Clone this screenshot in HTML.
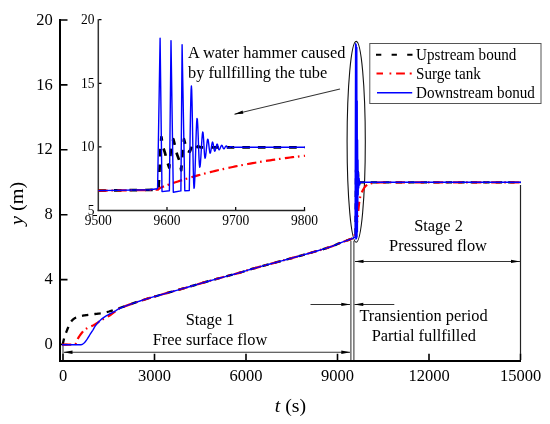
<!DOCTYPE html>
<html><head><meta charset="utf-8"><title>Water level chart</title>
<style>html,body{margin:0;padding:0;background:#fff;}svg{display:block;}</style>
</head><body>
<svg width="550" height="424" viewBox="0 0 550 424">
<rect width="550" height="424" fill="#fff"/>
<g stroke="#000" fill="none">
<path d="M60,19 V362 M59,361 H521" stroke-width="2"/>
<path d="M61,344.5 H67.5 M61,279.6 H67.5 M61,214.7 H67.5 M61,149.8 H67.5 M61,84.9 H67.5 M61,20 H67.5" stroke-width="1.6"/>
<path d="M63,360 V353.8 M154.5,360 V353.8 M246,360 V353.8 M337.5,360 V353.8 M429,360 V353.8 M520.5,360 V353.8" stroke-width="1.6"/>
</g>
<g font-family="'Liberation Serif', 'Times New Roman', serif" fill="#000">
<text transform="translate(52.8,349.1) scale(1,1.0)" font-size="16.5" text-anchor="end">0</text>
<text transform="translate(52.8,284.2) scale(1,1.0)" font-size="16.5" text-anchor="end">4</text>
<text transform="translate(52.8,219.3) scale(1,1.0)" font-size="16.5" text-anchor="end">8</text>
<text transform="translate(52.8,154.4) scale(1,1.0)" font-size="16.5" text-anchor="end">12</text>
<text transform="translate(52.8,89.5) scale(1,1.0)" font-size="16.5" text-anchor="end">16</text>
<text transform="translate(52.8,24.6) scale(1,1.0)" font-size="16.5" text-anchor="end">20</text>
<text transform="translate(63,380.6) scale(1,1.0)" font-size="16.5" text-anchor="middle">0</text>
<text transform="translate(154.5,380.6) scale(1,1.0)" font-size="16.5" text-anchor="middle">3000</text>
<text transform="translate(246,380.6) scale(1,1.0)" font-size="16.5" text-anchor="middle">6000</text>
<text transform="translate(337.5,380.6) scale(1,1.0)" font-size="16.5" text-anchor="middle">9000</text>
<text transform="translate(429,380.6) scale(1,1.0)" font-size="16.5" text-anchor="middle">12000</text>
<text transform="translate(520.5,380.6) scale(1,1.0)" font-size="16.5" text-anchor="middle">15000</text>
</g>
<text transform="translate(274.8,412.3) scale(1,0.94)" font-family="'Liberation Serif', 'Times New Roman', serif" font-size="19.8"><tspan font-style="italic">t</tspan> (s)</text>
<text transform="translate(22.6,225) rotate(-90) scale(1,0.95)" font-family="'Liberation Serif', 'Times New Roman', serif" font-size="20.2"><tspan font-style="italic">y</tspan> (m)</text>
<g stroke="#333" fill="none" stroke-width="1.05">
<path d="M350.9,240.8 V360 M353.9,240.8 V360"/>
<path d="M63,345 V360"/>
<path d="M520.5,185 V354" stroke="#222" stroke-width="1.2"/>
<path d="M64,352.3 H350"/>
<path d="M355,261.4 H520"/>
<path d="M310.5,304.4 H350 M354.5,304.4 H394.3"/>
<path d="M340,89 L234.5,114.2"/>
</g>
<path d="M63.5,352.3 L72.5,350.6 L72.5,354 Z M350.3,352.3 L341.3,354 L341.3,350.6 Z M354.5,261.4 L363.5,259.7 L363.5,263.1 Z M520,261.4 L511,263.1 L511,259.7 Z M350.3,304.4 L341.3,306.1 L341.3,302.7 Z M354.3,304.4 L363.3,302.7 L363.3,306.1 Z M234.2,114.3 L242.56,110.56 L243.35,113.86 Z" fill="#000"/>
<ellipse cx="356.2" cy="141.8" rx="9.1" ry="100.4" fill="none" stroke="#111" stroke-width="1.1"/>
<g fill="none" stroke-linejoin="round">
<path d="M62.7,344.3 L62.88,343.51 L63.13,342.41 L63.43,341.12 L63.76,339.72 L64.12,338.31 L64.5,337 L64.92,335.73 L65.38,334.42 L65.88,333.11 L66.37,331.82 L66.86,330.61 L67.3,329.5 L67.7,328.51 L68.07,327.61 L68.42,326.78 L68.77,326 L69.12,325.25 L69.5,324.5 L69.88,323.76 L70.26,323.06 L70.64,322.38 L71.04,321.72 L71.49,321.1 L72,320.5 L72.56,319.93 L73.15,319.38 L73.78,318.86 L74.46,318.37 L75.2,317.91 L76,317.5 L76.88,317.13 L77.85,316.81 L78.88,316.52 L79.93,316.26 L80.98,316.02 L82,315.8 L82.99,315.6 L83.96,315.44 L84.94,315.3 L85.93,315.17 L86.94,315.04 L88,314.9 L89.12,314.75 L90.3,314.59 L91.5,314.44 L92.7,314.29 L93.88,314.14 L95,314 L96.03,313.88 L97,313.79 L97.94,313.71 L98.89,313.61 L99.9,313.48 L101,313.3 L102.14,313.1 L103.27,312.9 L104.46,312.66 L105.76,312.37 L107.26,311.99 L109,311.5 L111.04,310.87 L113.34,310.12 L115.83,309.29 L118.43,308.4 L121.08,307.49 L123.7,306.6 L126.28,305.71 L128.88,304.8 L131.52,303.87 L134.23,302.92 L137.05,301.96 L140,301 L143.12,300.02 L146.39,299.01 L149.77,298 L153.2,296.99 L156.62,295.98 L160,295 L163.33,294.05 L166.67,293.11 L170,292.19 L173.33,291.27 L176.67,290.34 L180,289.4 L183.33,288.44 L186.67,287.47 L190,286.5 L193.33,285.53 L196.67,284.56 L200,283.6 L203.33,282.65 L206.67,281.71 L210,280.77 L213.33,279.84 L216.67,278.92 L220,278 L223.45,277.06 L227.04,276.1 L230.62,275.14 L234.07,274.22 L237.25,273.36 L240,272.6 L242.13,271.98 L243.7,271.49 L245,271.06 L246.3,270.63 L247.87,270.13 L250,269.5 L252.75,268.72 L255.93,267.84 L259.38,266.89 L262.96,265.91 L266.55,264.94 L270,264 L273.33,263.1 L276.67,262.2 L280,261.31 L283.33,260.41 L286.67,259.51 L290,258.6 L293.33,257.68 L296.67,256.76 L300,255.84 L303.33,254.9 L306.67,253.96 L310,253 L313.45,252 L317.04,250.96 L320.62,249.9 L324.07,248.87 L327.25,247.89 L330,247 L332.25,246.21 L334.07,245.5 L335.62,244.85 L337.04,244.23 L338.45,243.62 L340,243 L341.74,242.36 L343.56,241.7 L345.38,241.06 L347.11,240.45 L348.68,239.89 L350,239.4 L351.06,238.98 L351.93,238.6 L352.62,238.28 L353.19,238 L353.63,237.78 L354,237.6 L355.5,237 L356,170 L356.6,186 L357,170 L357.6,186 L358,172 L358.6,183 L359.2,182.3 L521,182.3" stroke="#000" stroke-width="2.3" stroke-dasharray="6.4 6.1" stroke-dashoffset="-12"/>
<path d="M62,344.6 L74.5,344.5 L74.66,344.4 L74.89,344.28 L75.16,344.13 L75.45,343.93 L75.74,343.66 L76,343.3 L76.23,342.83 L76.45,342.25 L76.66,341.6 L76.89,340.92 L77.13,340.24 L77.4,339.6 L77.71,338.98 L78.05,338.36 L78.41,337.74 L78.78,337.13 L79.15,336.55 L79.5,336 L79.84,335.5 L80.16,335.03 L80.49,334.59 L80.81,334.17 L81.15,333.74 L81.5,333.3 L81.85,332.85 L82.2,332.4 L82.55,331.94 L82.93,331.49 L83.34,331.04 L83.8,330.6 L84.29,330.17 L84.8,329.74 L85.34,329.32 L85.94,328.89 L86.62,328.46 L87.4,328 L88.35,327.51 L89.46,327 L90.66,326.48 L91.85,325.96 L92.96,325.46 L93.9,325 L94.66,324.59 L95.29,324.22 L95.83,323.87 L96.34,323.53 L96.85,323.17 L97.4,322.8 L97.94,322.43 L98.41,322.07 L98.88,321.71 L99.43,321.31 L100.11,320.85 L101,320.3 L102.18,319.62 L103.61,318.84 L105.19,317.99 L106.79,317.12 L108.29,316.27 L109.6,315.5 L110.68,314.79 L111.63,314.12 L112.49,313.47 L113.31,312.84 L114.13,312.22 L115,311.6 L115.75,311.02 L116.31,310.5 L116.87,309.99 L117.63,309.44 L118.77,308.79 L120.5,308 L122.93,307.02 L125.94,305.88 L129.34,304.65 L132.94,303.39 L136.56,302.15 L140,301 L143.3,299.94 L146.63,298.91 L149.97,297.91 L153.31,296.93 L156.66,295.97 L160,295 L163.33,294.05 L166.67,293.11 L170,292.19 L173.33,291.27 L176.67,290.34 L180,289.4 L183.33,288.44 L186.67,287.47 L190,286.5 L193.33,285.53 L196.67,284.56 L200,283.6 L203.33,282.65 L206.67,281.71 L210,280.77 L213.33,279.84 L216.67,278.92 L220,278 L223.45,277.06 L227.04,276.1 L230.62,275.14 L234.07,274.22 L237.25,273.36 L240,272.6 L242.13,271.98 L243.7,271.49 L245,271.06 L246.3,270.63 L247.87,270.13 L250,269.5 L252.75,268.72 L255.93,267.84 L259.38,266.89 L262.96,265.91 L266.55,264.94 L270,264 L273.33,263.1 L276.67,262.2 L280,261.31 L283.33,260.41 L286.67,259.51 L290,258.6 L293.33,257.68 L296.67,256.76 L300,255.84 L303.33,254.9 L306.67,253.96 L310,253 L313.45,252 L317.04,250.96 L320.62,249.9 L324.07,248.87 L327.25,247.89 L330,247 L332.25,246.21 L334.07,245.5 L335.62,244.85 L337.04,244.23 L338.45,243.62 L340,243 L341.74,242.36 L343.56,241.7 L345.38,241.06 L347.11,240.45 L348.68,239.89 L350,239.4 L351.06,238.98 L351.93,238.6 L352.62,238.28 L353.19,238 L353.63,237.78 L354,237.6 L355.81,230.05 L356.27,227.25 L356.76,224.08 L357.2,221 L357.55,218.03 L357.87,214.96 L358.18,211.91 L358.5,209 L358.8,206.2 L359.09,203.46 L359.41,200.9 L359.8,198.6 L360.27,196.65 L360.81,194.96 L361.39,193.45 L362,192 L362.67,190.57 L363.4,189.21 L364.13,188 L364.8,187 L365.38,186.27 L365.9,185.77 L366.42,185.38 L367,185 L367.6,184.62 L368.21,184.29 L368.92,183.99 L369.8,183.7 L370.82,183.41 L371.95,183.14 L373.31,182.89 L375,182.7 L377.4,182.57 L380.32,182.49 L383.09,182.44 L385,182.4 L521,182.3" stroke="#f00" stroke-width="2.2" stroke-dasharray="9.3 3.8 1.6 4.4"/>
<path d="M62,344.8 L81,344.8 L81.3,344.66 L81.72,344.49 L82.21,344.27 L82.75,344.01 L83.29,343.69 L83.8,343.3 L84.29,342.83 L84.79,342.3 L85.29,341.7 L85.8,341.06 L86.3,340.39 L86.8,339.7 L87.29,338.98 L87.77,338.21 L88.25,337.42 L88.73,336.61 L89.21,335.8 L89.7,335 L90.2,334.22 L90.7,333.43 L91.2,332.65 L91.7,331.87 L92.2,331.08 L92.7,330.3 L93.16,329.53 L93.58,328.79 L93.99,328.04 L94.44,327.27 L94.97,326.46 L95.6,325.6 L96.35,324.65 L97.2,323.61 L98.12,322.54 L99.09,321.47 L100.09,320.44 L101.1,319.5 L102.13,318.65 L103.19,317.86 L104.29,317.11 L105.41,316.39 L106.55,315.69 L107.7,315 L108.9,314.32 L110.15,313.66 L111.42,313.02 L112.67,312.4 L113.88,311.79 L115,311.2 L115.86,310.68 L116.45,310.23 L116.99,309.8 L117.7,309.33 L118.79,308.75 L120.5,308 L122.93,307.04 L125.94,305.91 L129.34,304.68 L132.94,303.4 L136.56,302.15 L140,301 L143.3,299.94 L146.63,298.91 L149.97,297.91 L153.31,296.93 L156.66,295.97 L160,295 L163.33,294.05 L166.67,293.11 L170,292.19 L173.33,291.27 L176.67,290.34 L180,289.4 L183.33,288.44 L186.67,287.47 L190,286.5 L193.33,285.53 L196.67,284.56 L200,283.6 L203.33,282.65 L206.67,281.71 L210,280.77 L213.33,279.84 L216.67,278.92 L220,278 L223.45,277.06 L227.04,276.1 L230.62,275.14 L234.07,274.22 L237.25,273.36 L240,272.6 L242.13,271.98 L243.7,271.49 L245,271.06 L246.3,270.63 L247.87,270.13 L250,269.5 L252.75,268.72 L255.93,267.84 L259.38,266.89 L262.96,265.91 L266.55,264.94 L270,264 L273.33,263.1 L276.67,262.2 L280,261.31 L283.33,260.41 L286.67,259.51 L290,258.6 L293.33,257.68 L296.67,256.76 L300,255.84 L303.33,254.9 L306.67,253.96 L310,253 L313.45,252 L317.04,250.96 L320.62,249.9 L324.07,248.87 L327.25,247.89 L330,247 L332.25,246.21 L334.07,245.5 L335.62,244.85 L337.04,244.23 L338.45,243.62 L340,243 L341.74,242.36 L343.56,241.7 L345.38,241.06 L347.11,240.45 L348.68,239.89 L350,239.4 L351.06,238.98 L351.93,238.6 L352.62,238.28 L353.19,238 L353.63,237.78 L354,237.6 L355.1,237 L355.6,43.6 L355.9,239 L356.2,44.6 L356.5,238.5 L356.8,47.5 L357,237 L357.2,101 L357.4,232 L357.6,140 L357.8,205 L358,160 L358.2,195 L358.4,172 L358.7,188 L359.1,178 L359.6,185 L360.4,182.3 L521,182.3" stroke="#00f" stroke-width="1.4"/>
</g>
<g stroke="#000" fill="none">
<path d="M98.3,19.2 V211.1" stroke-width="1.5" stroke="#333"/><path d="M97.7,210.5 H305.2" stroke-width="1.4" stroke="#222"/>
<path d="M98.9,146.9 H101.5 M98.9,83.3 H101.5 M98.9,19.7 H101.5" stroke-width="1.2"/>
<path d="M167,210 V207 M235.7,210 V207 M304.5,210 V207" stroke-width="1.2"/>
</g>
<g font-family="'Liberation Serif', 'Times New Roman', serif" fill="#000">
<text transform="translate(94.5,214.7) scale(1,1.03)" font-size="13.5" text-anchor="end">5</text>
<text transform="translate(94.5,151.1) scale(1,1.03)" font-size="13.5" text-anchor="end">10</text>
<text transform="translate(94.5,87.5) scale(1,1.03)" font-size="13.5" text-anchor="end">15</text>
<text transform="translate(94.5,23.9) scale(1,1.03)" font-size="13.5" text-anchor="end">20</text>
<text transform="translate(98.3,225) scale(1,1.03)" font-size="13.5" text-anchor="middle">9500</text>
<text transform="translate(167,225) scale(1,1.03)" font-size="13.5" text-anchor="middle">9600</text>
<text transform="translate(235.7,225) scale(1,1.03)" font-size="13.5" text-anchor="middle">9700</text>
<text transform="translate(304.5,225) scale(1,1.03)" font-size="13.5" text-anchor="middle">9800</text>
</g>
<g fill="none" stroke-linejoin="round">
<path d="M98.3,190.6 L158.5,189.8 L159.5,170 L160.5,148 L161.4,137 L162.8,146.2 L164.9,152.6 L167.7,163.2 L169.2,167.5 L170.6,153.3 L172,143.4 L173.4,139.2 L176.9,154 L179.8,161.8 L181.2,170.3 L182.6,153.3 L184,139.2 L186.8,150.5 L189.7,151.9 L192.5,144.8 L195,148.5 L198,146.2 L201,147.4 L205,147.3 L305,147.3" stroke="#000" stroke-width="2.7" stroke-dasharray="7.6 8"/>
<path d="M98.3,190.7 L150,190 L158,189.6 L160.49,187.68 L162.98,186.74 L165.47,185.81 L167.97,184.9 L170.46,184.01 L172.95,183.15 L175.44,182.29 L177.93,181.46 L180.42,180.64 L182.92,179.85 L185.41,179.06 L187.9,178.3 L190.39,177.55 L192.88,176.81 L195.37,176.09 L197.86,175.39 L200.36,174.7 L202.85,174.03 L205.34,173.37 L207.83,172.72 L210.32,172.09 L212.81,171.47 L215.31,170.86 L217.8,170.27 L220.29,169.69 L222.78,169.12 L225.27,168.56 L227.76,168.01 L230.25,167.48 L232.75,166.96 L235.24,166.44 L237.73,165.94 L240.22,165.45 L242.71,164.97 L245.2,164.5 L247.69,164.04 L250.19,163.59 L252.68,163.15 L255.17,162.71 L257.66,162.29 L260.15,161.88 L262.64,161.47 L265.14,161.07 L267.63,160.68 L270.12,160.3 L272.61,159.93 L275.1,159.56 L277.59,159.21 L280.08,158.86 L282.58,158.51 L285.07,158.18 L287.56,157.85 L290.05,157.53 L292.54,157.21 L295.03,156.91 L297.53,156.6 L300.02,156.31 L302.51,156.02 L305,155.74" stroke="#f00" stroke-width="2.2" stroke-dasharray="9.3 3.8 1.6 4.4"/>
<path d="M98.3,190.6 L150,189.8 L157.2,188.8 L157.6,187.5 L160.1,38.2 L162,191.6 L169.4,190.8 L171,40.6 L173.3,192.3 L180.9,190.9 L182.1,44.8 L184.8,190.8 L189.3,190.6 L189.46,181.12 L189.67,166.96 L189.91,149.94 L190.19,131.91 L190.48,114.67 L190.79,100.05 L191.1,89.89 L191.4,86 L191.7,90.06 L192.01,101.06 L192.32,116.78 L192.64,134.98 L192.97,153.46 L193.31,169.98 L193.65,182.34 L194,188.3 L194.36,186.99 L194.73,180.15 L195.11,169.48 L195.49,156.69 L195.88,143.49 L196.26,131.56 L196.64,122.63 L197,118.4 L197.35,119.39 L197.69,124.22 L198.02,131.7 L198.35,140.63 L198.68,149.84 L199.01,158.12 L199.35,164.31 L199.7,167.2 L200.07,166.4 L200.45,162.87 L200.83,157.45 L201.22,151.01 L201.61,144.39 L201.99,138.45 L202.36,134.04 L202.7,132 L203.02,132.65 L203.31,135.29 L203.6,139.32 L203.87,144.09 L204.14,148.99 L204.41,153.4 L204.7,156.67 L205,158.2 L205.32,157.75 L205.65,155.83 L206,152.9 L206.34,149.41 L206.69,145.82 L207.04,142.6 L207.37,140.21 L207.7,139.1 L208.01,139.45 L208.32,140.88 L208.62,143.06 L208.92,145.65 L209.21,148.3 L209.51,150.67 L209.8,152.42 L210.1,153.2 L210.4,152.88 L210.7,151.72 L211.01,150 L211.31,147.96 L211.61,145.89 L211.91,144.05 L212.21,142.69 L212.5,142.1 L212.78,142.38 L213.06,143.33 L213.33,144.74 L213.6,146.4 L213.87,148.09 L214.14,149.59 L214.42,150.7 L214.7,151.2 L214.99,151 L215.3,150.26 L215.6,149.16 L215.91,147.86 L216.22,146.54 L216.52,145.35 L216.82,144.49 L217.1,144.1 L217.37,144.27 L217.61,144.86 L217.85,145.75 L218.09,146.79 L218.32,147.85 L218.57,148.79 L218.82,149.49 L219.1,149.8 L219.4,149.67 L219.72,149.2 L220.05,148.51 L220.39,147.69 L220.74,146.85 L221.07,146.1 L221.39,145.55 L221.7,145.3 L221.98,145.4 L222.25,145.76 L222.51,146.3 L222.76,146.94 L223.01,147.6 L223.27,148.18 L223.53,148.61 L223.8,148.8 L224.09,148.72 L224.38,148.43 L224.68,148 L224.99,147.49 L225.29,146.97 L225.6,146.5 L225.9,146.16 L226.2,146 L226.49,146.05 L226.78,146.26 L227.06,146.59 L227.34,146.97 L227.63,147.36 L227.91,147.71 L228.2,147.98 L228.5,148.1 L228.8,148.07 L229.11,147.92 L229.42,147.7 L229.74,147.43 L230.05,147.15 L230.37,146.9 L230.69,146.7 L231,146.6 L231.31,146.6 L231.62,146.66 L231.94,146.78 L232.25,146.92 L232.56,147.07 L232.88,147.22 L233.19,147.33 L233.5,147.4 L233.8,147.42 L234.09,147.41 L234.37,147.39 L234.66,147.34 L234.95,147.3 L235.27,147.25 L235.62,147.22 L236,147.2 L236.39,147.2 L236.75,147.21 L237.13,147.22 L237.53,147.24 L237.99,147.26 L238.54,147.27 L239.2,147.29 L240,147.3 L240.66,147.3 L241.02,147.31 L241.33,147.31 L241.81,147.31 L242.69,147.3 L244.2,147.3 L246.56,147.3 L250,147.3 L255.1,147.3 L261.88,147.3 L269.75,147.3 L278.12,147.3 L286.43,147.3 L294.06,147.3 L300.45,147.3 L305,147.3" stroke="#00f" stroke-width="1.4"/>
</g>
<g font-family="'Liberation Serif', 'Times New Roman', serif" fill="#000">
<text transform="translate(188,58) scale(1,1.08)" font-size="16.35">A water hammer caused</text>
<text transform="translate(188,78.3) scale(1,1.08)" font-size="16.35">by fullfilling the tube</text>
<text transform="translate(210,325) scale(1,1.08)" font-size="16.4" text-anchor="middle">Stage 1</text>
<text transform="translate(210,345) scale(1,1.08)" font-size="16.4" text-anchor="middle">Free surface flow</text>
<text transform="translate(438.5,231) scale(1,1.08)" font-size="16.4" text-anchor="middle">Stage 2</text>
<text transform="translate(438,250.7) scale(1,1.08)" font-size="16.4" text-anchor="middle">Pressured flow</text>
<text transform="translate(423.5,320.8) scale(1,1.08)" font-size="16.4" text-anchor="middle">Transiention period</text>
<text transform="translate(423.8,341) scale(1,1.08)" font-size="16.4" text-anchor="middle">Partial fullfilled</text>
</g>
<rect x="369.8" y="43.5" width="171.2" height="60" fill="#fff" stroke="#555" stroke-width="1"/>
<g fill="none">
<path d="M376,54.7 H412.5" stroke="#000" stroke-width="2" stroke-dasharray="5.3 10.3"/>
<path d="M376.5,73.6 H412" stroke="#f00" stroke-width="2" stroke-dasharray="6.5 6.5 1.8 4.8 8.8 4.8 2 10"/>
<path d="M377,92.8 H412.2" stroke="#00f" stroke-width="1.4"/>
</g>
<g font-family="'Liberation Serif', 'Times New Roman', serif" fill="#000">
<text transform="translate(416,60) scale(1,1.1)" font-size="15.15">Upstream bound</text>
<text transform="translate(416,78.5) scale(1,1.1)" font-size="15.15">Surge tank</text>
<text transform="translate(416,97.5) scale(1,1.1)" font-size="15.15">Downstream bonud</text>
</g>
</svg>
</body></html>
